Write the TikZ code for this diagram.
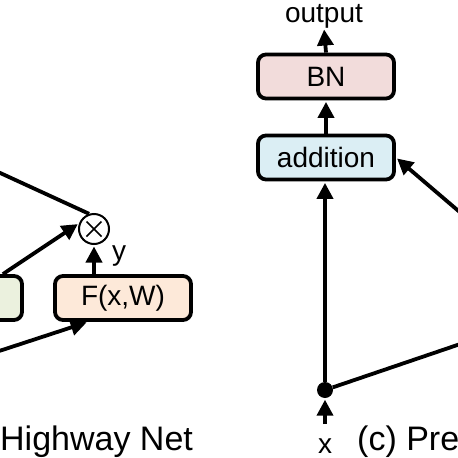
\documentclass[tikz,border=0pt]{standalone}
\usepackage{fontspec}
\setmainfont{Liberation Sans}
\usetikzlibrary{arrows.meta,calc}
\definecolor{gfill}{HTML}{EBF1DE}
\definecolor{ffill}{HTML}{FDE9D9}
\definecolor{bnfill}{HTML}{F2DCDB}
\definecolor{addfill}{HTML}{DBEEF4}
\begin{document}
\begin{tikzpicture}[x=1pt,y=-1pt,
 box/.style={draw, line width=3.8pt, rounded corners=8pt, minimum width=136pt, minimum height=44pt, inner sep=0pt, font=\fontsize{28}{30}\selectfont},
 conn/.style={line width=3.8pt},
 arr/.style={conn, -{Triangle[length=16pt,width=16pt]}, shorten >=1.5pt},
 lbl/.style={inner sep=0pt, font=\fontsize{28}{30}\selectfont},
 capt/.style={inner sep=0pt, anchor=base west, font=\fontsize{34}{36}\selectfont}]
\useasboundingbox (0,0) rectangle (458,458);
\clip (0,0) rectangle (458,458);
\fill[white] (0,0) rectangle (458,458);
% (b) Highway Net
\node[box, fill=gfill] (g) at (-46,298) {};
\node[box, fill=ffill] (f) at (123,298) {F(x,W)};
\node[circle, draw, line width=2pt, minimum size=30pt, inner sep=0pt] (m) at (94,229) {};
\draw[line width=1.5pt] ($(m)+(-7.5,-7.5)$) -- ($(m)+(7.5,7.5)$) ($(m)+(-7.5,7.5)$) -- ($(m)+(7.5,-7.5)$);
\coordinate (tl) at (-10,168.3);
\draw[conn] (tl) -- (m.108);
\draw[arr] ($(g.north east)+(-21,0)$) -- (m.159);
\draw[arr] (m.south |- f.north) -- (m.south);
\node[lbl, anchor=base west] (yl) at (112,260) {y};
\coordinate (bl) at (-10,354);
\draw[arr] (bl) -- ($(f.south west)+(35,0)$);
\node[capt] (hw) at (0,450) {Highway Net};
% (c)
\node[box, fill=bnfill] (bn) at (326,76.5) {BN};
\node[box, fill=addfill] (add) at (326,157.5) {addition};
\node[lbl, anchor=base] (out) at (324,22) {output};
\draw[arr] (bn.north) -- (out.south);
\draw[arr] (add.north) -- (bn.south);
\node[circle, fill, inner sep=0pt, minimum size=16pt] (d) at (325,390) {};
\draw[arr] (d) -- (d |- add.south);
\coordinate (xt) at (325,424);
\draw[arr] (xt) -- (d.south);
\node[lbl, anchor=base] (xl) at (325,453) {x};
\coordinate (rt) at (470,220.8);
\draw[arr] (rt) -- (add.east);
\coordinate (rb) at (470,340.7);
\draw[conn] (d) -- (rb);
\node[capt] (pc) at (357,450) {(c) Pre};
\end{tikzpicture}
\end{document}
